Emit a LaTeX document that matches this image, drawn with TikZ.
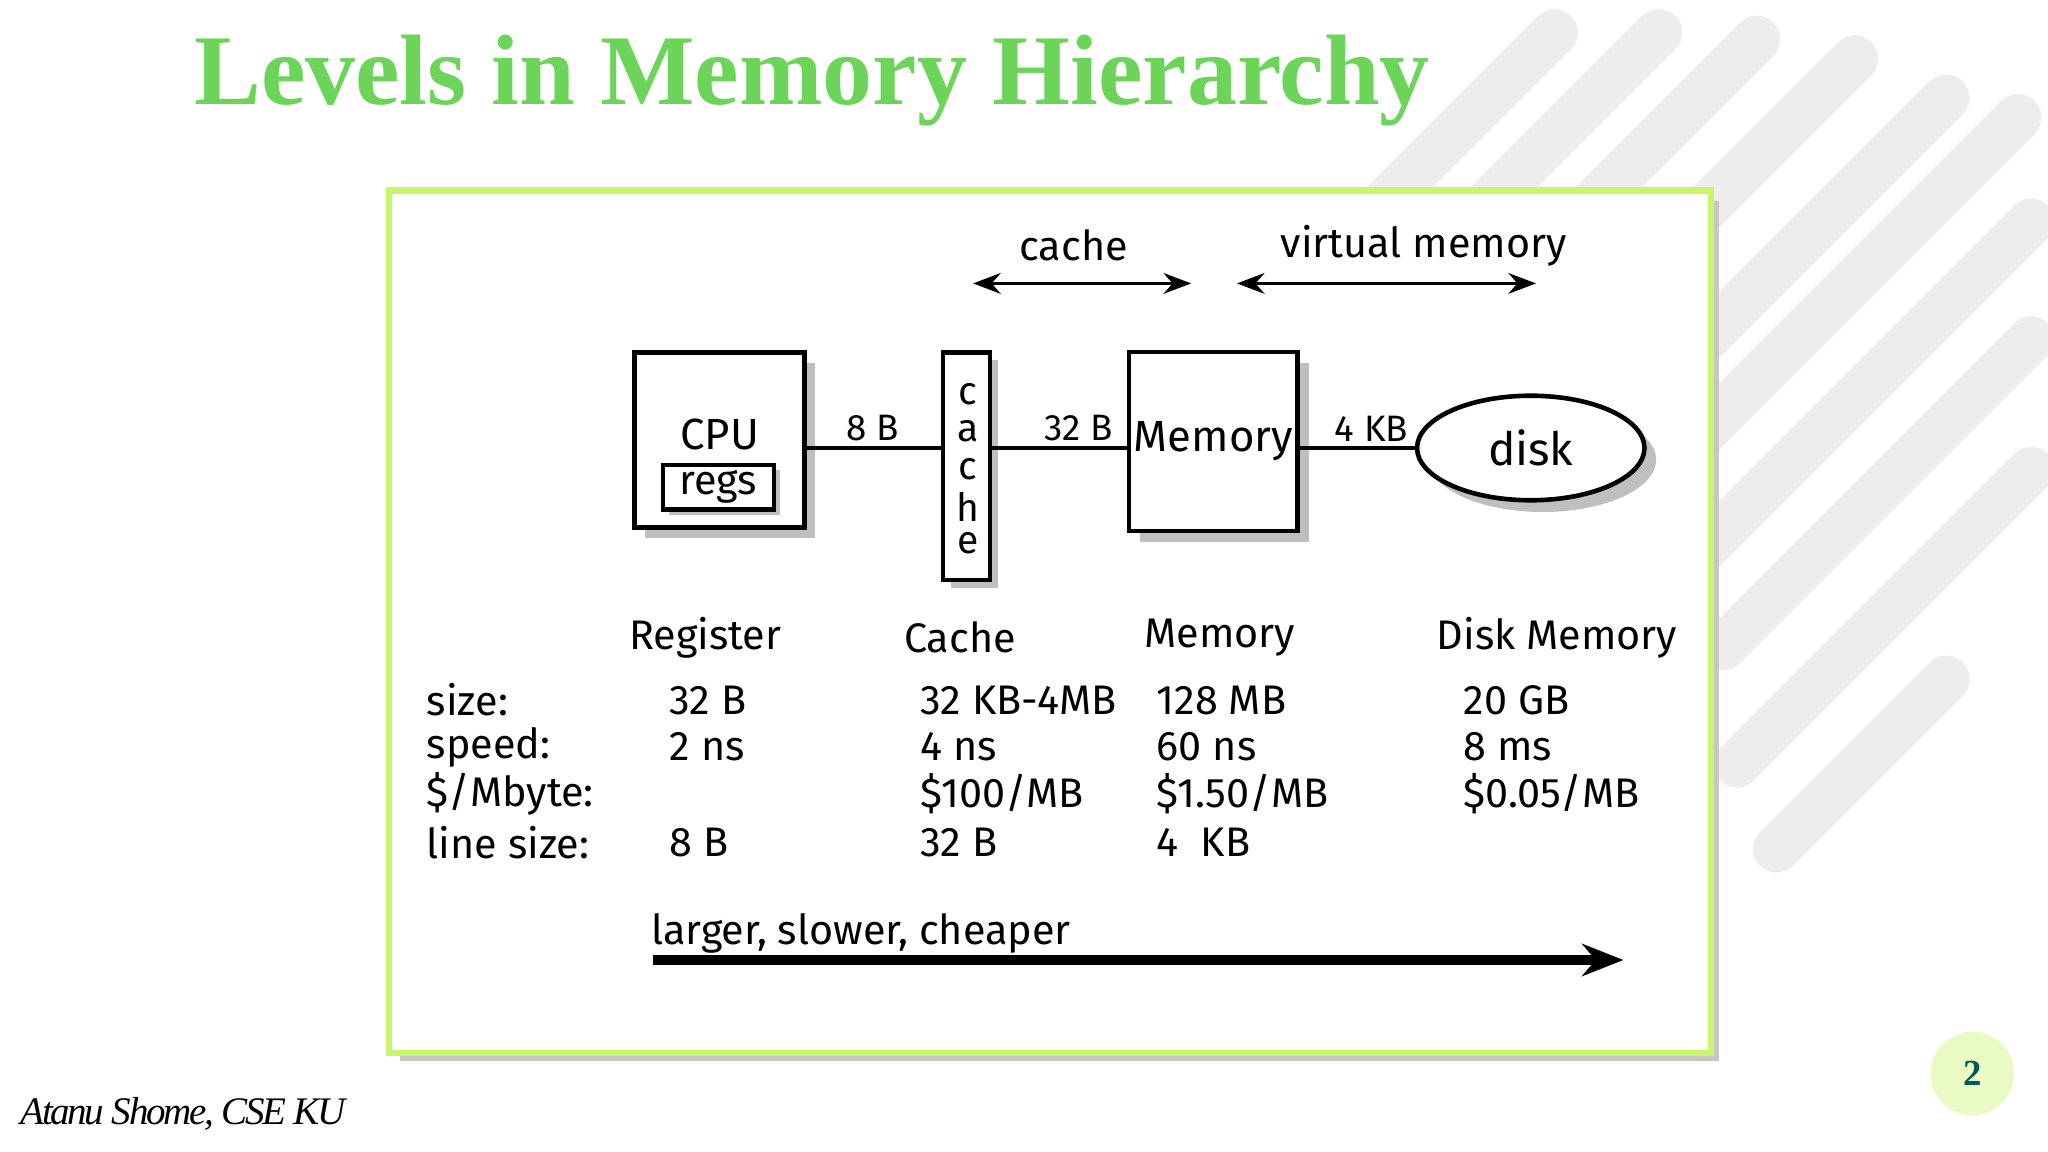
\documentclass[tikz,border=0pt]{standalone}
\usepackage{fontspec}
\setmainfont{Liberation Serif}
\newfontfamily\cf{Fira Sans}
\usetikzlibrary{arrows.meta,shapes.geometric}
\definecolor{ttl}{HTML}{6DD45A}
\definecolor{frm}{HTML}{C8F56A}
\definecolor{strp}{HTML}{EDEDED}
\begin{document}
\begin{tikzpicture}[x=0.01cm,y=-0.01cm,
  bx/.style={draw,line width=1pt,fill=white},
  shd/.style={fill=gray!50},
  t/.style={font=\cf\fontsize{9}{10}\selectfont,inner sep=0pt},
  lab/.style={t,anchor=west},
  stripe/.style={strp,line width=0.36cm,line cap=round}]
\useasboundingbox (0,0) rectangle (1568,882);
% background stripes
\draw[stripe] (1190,25) -- (1000,215);
\draw[stripe] (1270,25) -- (1020,275);
\draw[stripe] (1345,30) -- (1060,315);
\draw[stripe] (1420,45) -- (1290,175);
\draw[stripe] (1490,75) -- (1260,305);
\draw[stripe] (1545,90) -- (1280,355);
\draw[stripe] (1555,170) -- (1300,425);
\draw[stripe] (1555,260) -- (1320,495);
\draw[stripe] (1555,360) -- (1330,585);
\draw[stripe] (1490,520) -- (1360,650);
% title
\node[anchor=west,text=ttl,font=\bfseries\fontsize{21.8}{24}\selectfont,inner sep=0pt] (title) at (148,62) {Levels in Memory Hierarchy};
% frame
\fill[gray!45] (306,154) rectangle (1316,812);
\draw[frm,line width=1.4pt,fill=white] (298,146) rectangle (1310,806);
% CPU
\fill[shd] (494,278) rectangle (624,412);
\node[bx,minimum width=1.3cm,minimum height=1.34cm,inner sep=0pt] (cpu) at (551,337) {};
\node[t,font=\cf\fontsize{9.5}{11}\selectfont] (cpul) at (551,333) {CPU};
\fill[shd] (512,360) rectangle (597,394);
\node[bx,minimum width=0.85cm,minimum height=0.34cm,inner sep=0pt,font=\cf\fontsize{9}{10}\selectfont] (regs) at (550,373) {regs};
% cache
\fill[shd] (728,276) rectangle (764,450);
\node[bx,minimum width=0.36cm,minimum height=1.74cm,inner sep=0pt] (cache) at (740,357) {};
\foreach \c/\yy in {c/302,a/330,c/359,h/388,e/416}
  \node[t,font=\cf\fontsize{8.5}{9}\selectfont] at (741,\yy) {\c};
% memory
\fill[shd] (873,278) rectangle (1002,415);
\node[bx,minimum width=1.29cm,minimum height=1.37cm,inner sep=0pt,font=\cf\fontsize{9.5}{11}\selectfont] (mem) at (929,338) {Memory};
% disk
\fill[shd] (1181,352) ellipse [x radius=87,y radius=40];
\node[bx,ellipse,minimum width=1.74cm,minimum height=0.8cm,inner sep=0pt,font=\cf\fontsize{10}{11}\selectfont] (disk) at (1172,343) {disk};
% links
\draw[line width=0.8pt] (cpu.east|-0,343) -- (cache.west|-0,343);
\draw[line width=0.8pt] (cache.east|-0,343) -- (mem.west|-0,343);
\draw[line width=0.8pt] (mem.east|-0,343) -- (disk.west);
\node[t,font=\cf\fontsize{8}{9}\selectfont] at (668,328) {8 B};
\node[t,font=\cf\fontsize{8}{9}\selectfont] at (826,328) {32 B};
\node[t,font=\cf\fontsize{8}{9}\selectfont] at (1050,328) {4 KB};
% top arrows
\coordinate (a1) at (745,217); \coordinate (a2) at (912,217);
\coordinate (b1) at (947,217); \coordinate (b2) at (1176,217);
\draw[{Stealth[length=6pt]}-{Stealth[length=6pt]},line width=0.8pt] (a1) -- (a2);
\draw[{Stealth[length=6pt]}-{Stealth[length=6pt]},line width=0.8pt] (b1) -- (b2);
\node[t] at (822,188) {cache};
\node[t] at (1090,188) {virtual memory};
% table
\node[t] at (540,488) {Register};
\node[t] at (735,488) {Cache};
\node[t] at (934,488) {Memory};
\node[t] at (1192,488) {Disk Memory};
\node[lab] at (326,536) {size:};
\node[lab] at (326,572) {speed:};
\node[lab] at (326,608) {\$/Mbyte:};
\node[lab] at (326,645) {line size:};
\node[lab] at (512,536) {32 B};
\node[lab] at (512,572) {2 ns};
\node[lab] at (512,645) {8 B};
\node[lab] at (704,536) {32 KB-4MB};
\node[lab] at (704,572) {4 ns};
\node[lab] at (704,608) {\$100/MB};
\node[lab] at (704,645) {32 B};
\node[lab] at (885,536) {128 MB};
\node[lab] at (885,572) {60 ns};
\node[lab] at (885,608) {\$1.50/MB};
\node[lab] at (885,645) {4\ \ KB};
\node[lab] at (1120,536) {20 GB};
\node[lab] at (1120,572) {8 ms};
\node[lab] at (1120,608) {\$0.05/MB};
% bottom arrow
\coordinate (l1) at (500,735); \coordinate (l2) at (1243,735);
\draw[-{Stealth[length=9pt,width=7pt]},line width=2pt] (l1) -- (l2);
\node[lab] at (498,715) {larger, slower, cheaper};
% page number
\node[circle,fill=frm!40,minimum size=0.64cm,inner sep=0pt,text=teal!70!black,font=\bfseries\fontsize{8}{10}\selectfont] (pg) at (1510,822) {2};
\node[anchor=west,font=\itshape\fontsize{8.5}{10}\selectfont,inner sep=0pt] (foot) at (15,853) {\addfontfeature{LetterSpace=-6}Atanu Shome, CSE KU};
\end{tikzpicture}
\end{document}
